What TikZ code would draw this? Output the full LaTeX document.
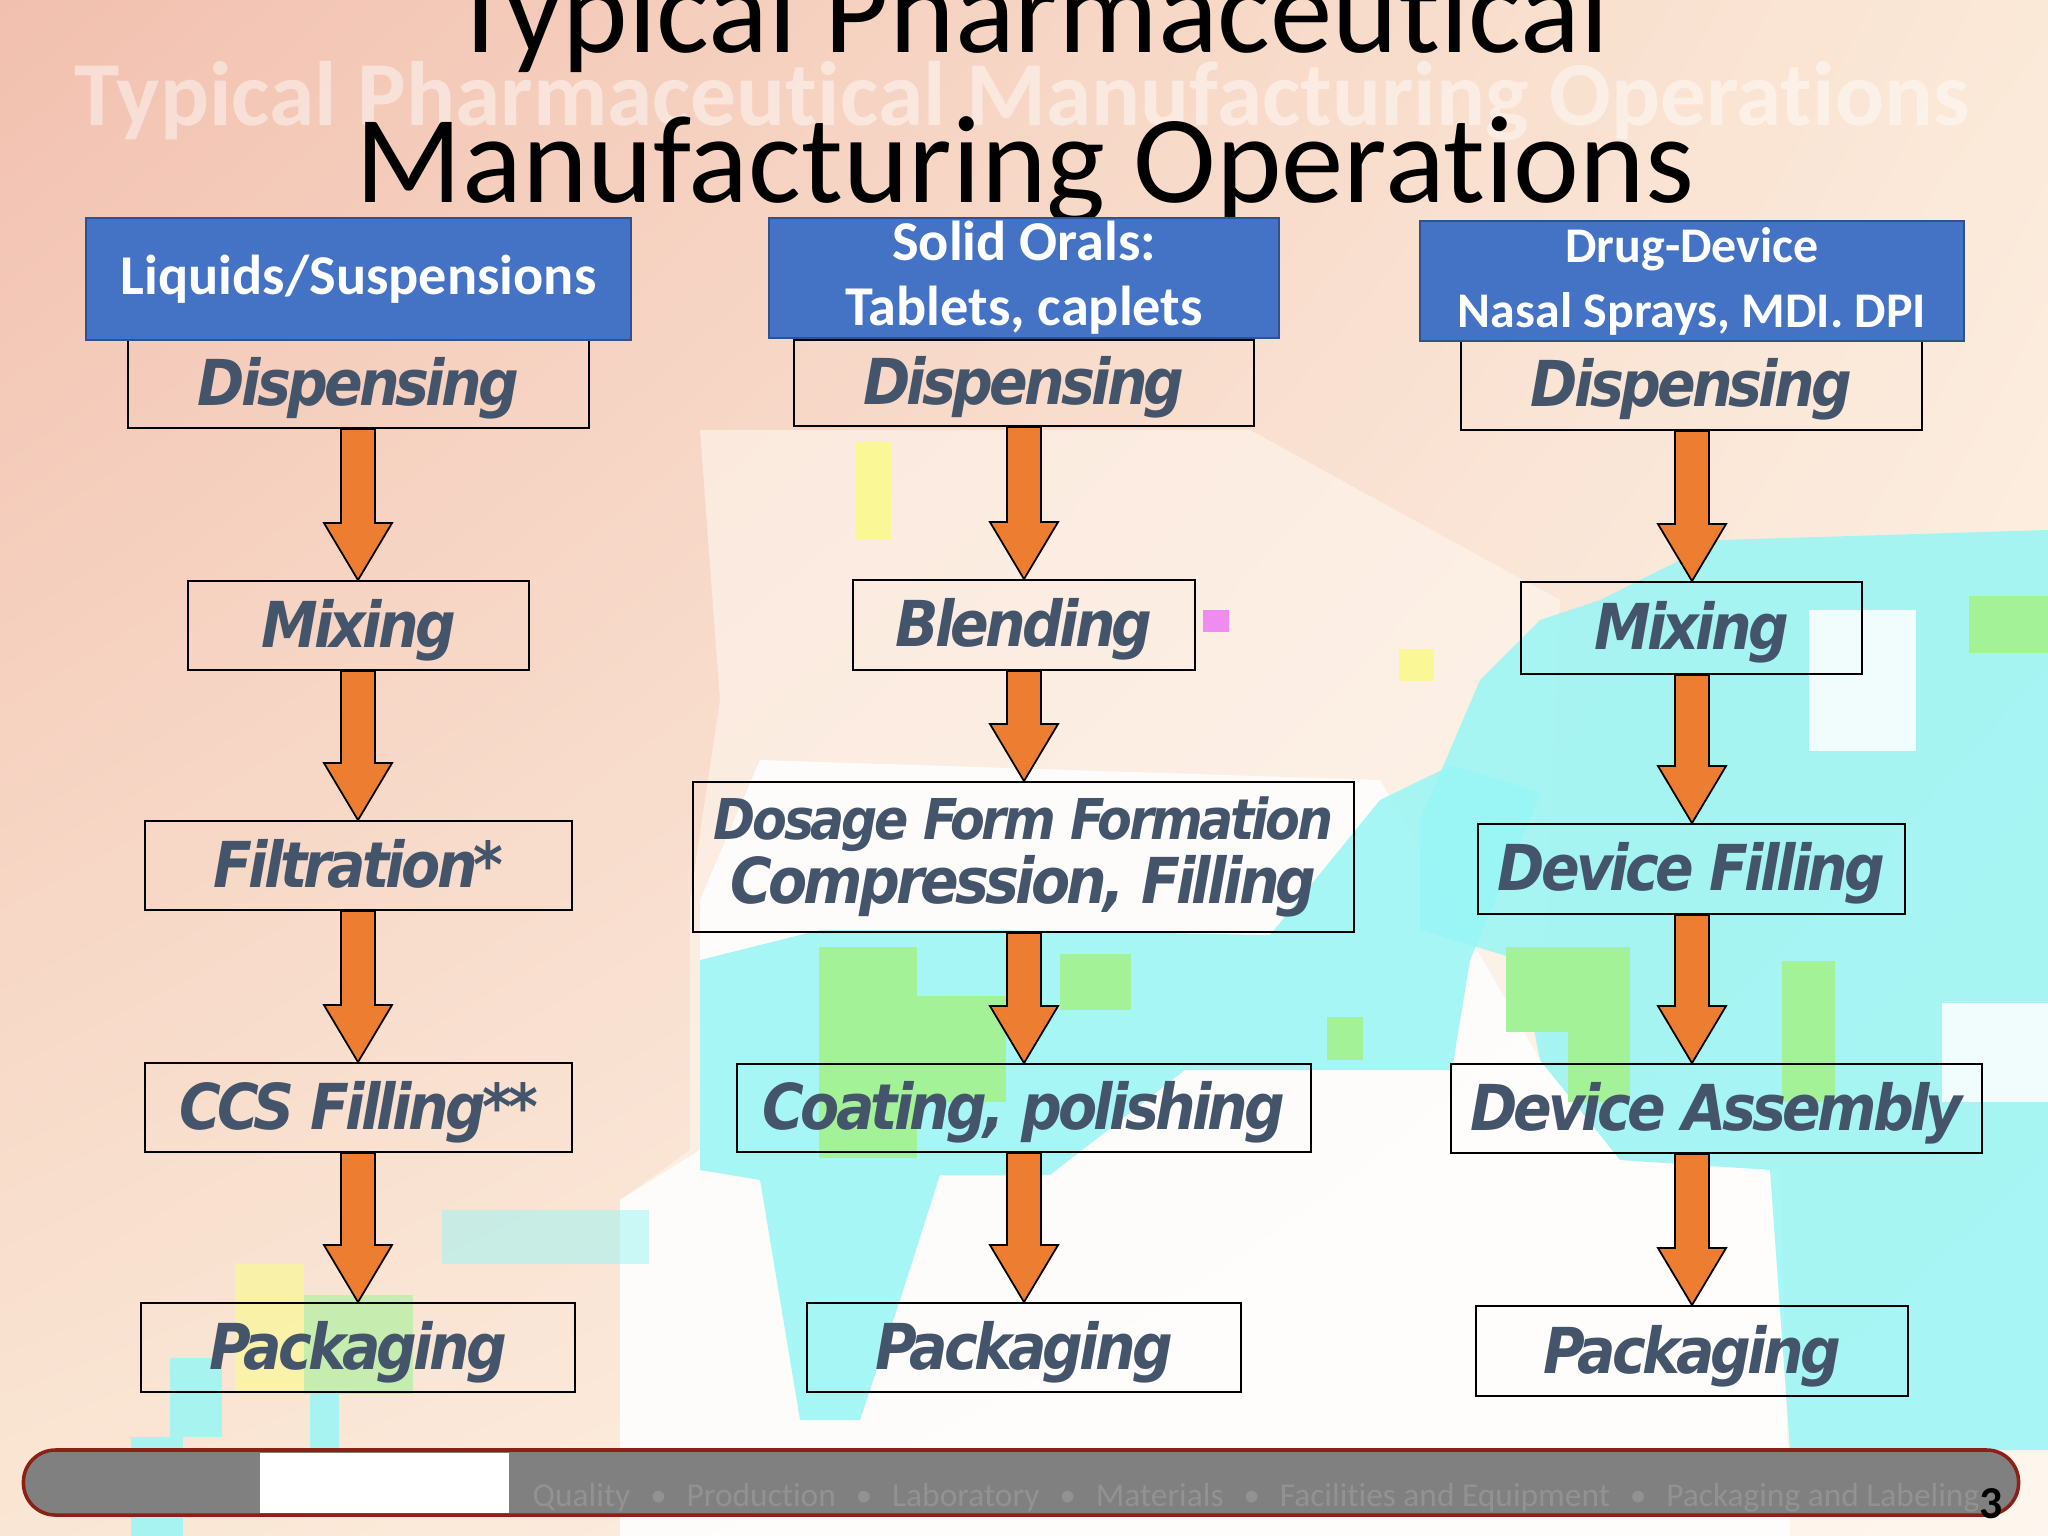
\documentclass[tikz,border=0pt]{standalone}
\usepackage{fontspec}
\setmainfont[Ligatures=NoCommon]{Carlito}
\newfontfamily\stepfont[FakeStretch=0.9, LetterSpace=-6]{DejaVu Sans}
\usepackage{xcolor}
\usetikzlibrary{
  calc,
  positioning,
  shadings
}
\definecolor{hdrblue}{RGB}{68,114,196}
\definecolor{hdredge}{RGB}{47,82,143}
\definecolor{stepink}{RGB}{68,84,106}
\definecolor{flow}{RGB}{237,125,49}
\definecolor{barfill}{RGB}{128,128,128}
\definecolor{baredge}{RGB}{140,32,22}
\definecolor{bartext}{RGB}{146,146,146}
\definecolor{peach}{RGB}{250,230,212}
\definecolor{paleapricot}{RGB}{251,233,216}
\definecolor{cream}{RGB}{254,246,238}
\definecolor{salmon}{RGB}{242,192,175}
\definecolor{aqua}{RGB}{152,246,246}
\definecolor{mint}{RGB}{164,242,152}
\definecolor{lemon}{RGB}{250,248,150}
\definecolor{orchid}{RGB}{240,140,240}
\tikzset{
  titletxt/.style={ font=\fontsize{35.5}{42}\selectfont, text=black, inner sep=0pt },
  ghosttxt/.style={ font=\fontsize{26}{30}\selectfont\bfseries, text=white, text opacity=0.45, inner sep=0pt },
  headbox/.style={
    draw=hdredge,
    fill=hdrblue,
    line width=0.6pt,
    text=white,
    align=center,
    inner sep=0pt,
    font=\fontsize{14.2}{18.5}\selectfont\bfseries
  },
  bighead/.style={ font=\fontsize{16}{18.5}\selectfont\bfseries },
  stepbase/.style={
    draw=black,
    line width=0.5pt,
    text=stepink,
    align=center,
    inner sep=0pt,
    font=\stepfont\bfseries\itshape\fontsize{18}{18.2}\selectfont
  },
  stepbox/.style={
    stepbase,
    text height=15pt,
    text depth=2.5pt
  },
  blockarrow/.style={
    draw=black,
    line width=0.5pt,
    fill=flow,
    line join=miter
  },
  barbox/.style={
    draw=baredge,
    fill=barfill,
    line width=1pt,
    rounded corners=3.2mm,
    minimum width=19.94cm,
    minimum height=0.65cm,
    inner sep=0pt
  }
}
% block arrow down a column, from the bottom of one box to the top of the next
\newcommand{\flowarrow}[3]{%
  \draw[blockarrow]
    ($(#1 |- #2.south)+(-17,0)$) -- ($(#1 |- #3.north)+(-17,-57)$)
    -- ($(#1 |- #3.north)+(-34,-57)$) -- (#1 |- #3.north)
    -- ($(#1 |- #3.north)+(34,-57)$) -- ($(#1 |- #3.north)+(17,-57)$)
    -- ($(#1 |- #2.south)+(17,0)$) -- cycle;
}
\newcommand{\barsep}{\hfill\textbullet\hfill}

\begin{document}
\begin{tikzpicture}[x=0.01cm, y=-0.01cm]
\useasboundingbox (0,0) rectangle (2048,1536);
\clip (0,0) rectangle (2048,1536);

% background
\shade[upper left=salmon, upper right=paleapricot, lower left=peach, lower right=cream]
  (0,0) rectangle (2048,1536);
\fill[cream, opacity=0.6] (700,430) -- (1250,430) -- (1450,540) -- (1560,600) -- (1540,1060)
  -- (1620,1160) -- (1780,1170) -- (1790,1536) -- (620,1536) -- (620,1200) -- (690,1150)
  -- (690,900) -- (720,700) -- cycle;
\fill[white, opacity=0.85] (760,760) -- (1380,780) -- (1540,1060) -- (1620,1160) -- (1780,1170)
  -- (1790,1536) -- (620,1536) -- (620,1200) -- (700,1150) -- (700,900) -- cycle;
\fill[aqua, opacity=0.85] (1540,620) -- (1600,600) -- (1720,540) -- (2048,530) -- (2048,1450)
  -- (1790,1450) -- (1770,1170) -- (1620,1160) -- (1540,1060) -- (1520,960) -- (1420,930)
  -- (1420,820) -- (1480,680) -- cycle;
\fill[aqua, opacity=0.85] (700,960) -- (820,930) -- (1000,930) -- (1270,935) -- (1380,800)
  -- (1452,765) -- (1541,793) -- (1470,960) -- (1452,1070) -- (1185,1070) -- (1050,1175)
  -- (940,1175) -- (900,1300) -- (860,1420) -- (800,1420) -- (760,1180) -- (700,1170) -- cycle;
\fill[aqua, opacity=0.5] (442,1210) rectangle (649,1264);
\fill[aqua, opacity=0.85] (310,1394) rectangle (339,1448);
\fill[aqua, opacity=0.85] (170,1358) rectangle (222,1437);
\fill[aqua, opacity=0.85] (131,1437) rectangle (183,1536);
\fill[white, opacity=0.85] (1809,610) rectangle (1916,751);
\fill[white, opacity=0.85] (1942,1003) rectangle (2048,1102);
\fill[mint] (819,947) rectangle (917,1158);
\fill[mint] (917,996) rectangle (1006,1102);
\fill[mint] (1060,954) rectangle (1131,1010);
\fill[mint] (1327,1017) rectangle (1363,1060);
\fill[mint] (1506,947) rectangle (1630,1032);
\fill[mint] (1568,1032) rectangle (1630,1102);
\fill[mint] (1782,961) rectangle (1835,1102);
\fill[mint] (1969,596) rectangle (2048,653);
\fill[mint, opacity=0.6] (304,1295) rectangle (413,1394);
\fill[lemon, opacity=0.7] (235,1264) rectangle (304,1394);
\fill[lemon] (855,442) rectangle (891,540);
\fill[lemon] (1399,649) rectangle (1434,681);
\fill[orchid] (1203,610) rectangle (1229,632);

% titles
\node[ghosttxt, anchor=base] (ghost) at (1022,125) {Typical Pharmaceutical Manufacturing Operations};
\node[titletxt, anchor=base] (title1) at (1030,52) {Typical Pharmaceutical};
\node[titletxt, anchor=base] (title2) at (1025,202) {Manufacturing Operations};

% columns
\coordinate (colL) at (358,0);
\coordinate (colS) at (1024,0);
\coordinate (colD) at (1692,0);

% liquids / suspensions
\node[stepbox, minimum width=4.61cm, minimum height=0.88cm] (liq1) at (358.5,384) {Dispensing};
\node[stepbox, minimum width=3.41cm, minimum height=0.89cm] (liq2) at (358.5,625.5) {Mixing};
\node[stepbox, minimum width=4.27cm, minimum height=0.89cm] (liq3) at (358.5,865.5) {Filtration*};
\node[stepbox, minimum width=4.27cm, minimum height=0.89cm] (liq4) at (358.5,1107.5) {CCS Filling**};
\node[stepbox, minimum width=4.34cm, minimum height=0.89cm] (liq5) at (358,1347.5) {Packaging};
\node[headbox, bighead, minimum width=5.45cm, minimum height=1.22cm] (hdrliq) at (358.5,279) {Liquids/Suspensions};

% solid orals
\node[stepbox, minimum width=4.60cm, minimum height=0.86cm] (sol1) at (1024,383) {Dispensing};
\node[stepbox, minimum width=3.42cm, minimum height=0.90cm] (sol2) at (1024,625) {Blending};
\node[stepbase, minimum width=6.61cm, minimum height=1.50cm] (sol3) at (1023.5,857)
  {{\fontsize{16}{18.2}\selectfont Dosage Form Formation}\\Compression, Filling};
\node[stepbox, minimum width=5.74cm, minimum height=0.88cm] (sol4) at (1024,1108) {Coating, polishing};
\node[stepbox, minimum width=4.34cm, minimum height=0.89cm] (sol5) at (1024,1347.5) {Packaging};
\node[headbox, bighead, minimum width=5.10cm, minimum height=1.20cm] (hdrsol) at (1024,278) {Solid Orals:\\Tablets, caplets};

% drug-device
\node[stepbox, minimum width=4.61cm, minimum height=0.90cm] (dev1) at (1691.5,385) {Dispensing};
\node[stepbox, minimum width=3.41cm, minimum height=0.92cm] (dev2) at (1691.5,628) {Mixing};
\node[stepbox, minimum width=4.27cm, minimum height=0.90cm] (dev3) at (1691.5,869) {Device Filling};
\node[stepbox, minimum width=5.31cm, minimum height=0.89cm] (dev4) at (1716.5,1108.5) {Device Assembly};
\node[stepbox, minimum width=4.32cm, minimum height=0.90cm] (dev5) at (1692,1351) {Packaging};
\node[headbox, minimum width=5.44cm, minimum height=1.20cm] (hdrdev) at (1692,281) {Drug-Device\\Nasal Sprays, MDI. DPI};

% arrows
\flowarrow{colL}{liq1}{liq2}
\flowarrow{colL}{liq2}{liq3}
\flowarrow{colL}{liq3}{liq4}
\flowarrow{colL}{liq4}{liq5}
\flowarrow{colS}{sol1}{sol2}
\flowarrow{colS}{sol2}{sol3}
\flowarrow{colS}{sol3}{sol4}
\flowarrow{colS}{sol4}{sol5}
\flowarrow{colD}{dev1}{dev2}
\flowarrow{colD}{dev2}{dev3}
\flowarrow{colD}{dev3}{dev4}
\flowarrow{colD}{dev4}{dev5}

% footer bar
\node[barbox] (bar) at (1021,1482.5) {};
\fill[white] (260,1452.5) rectangle (509,1512.5);
\node[anchor=base west, inner sep=0pt, text=bartext, font=\fontsize{9.5}{10}\selectfont] (bartxt) at (532,1506)
  {\makebox[14.46cm][s]{Quality\barsep Production\barsep Laboratory\barsep Materials\barsep Facilities and Equipment\barsep Packaging and Labeling}};
\node[anchor=base, inner sep=0pt, font=\fontsize{13}{13}\selectfont\bfseries] (pagenum) at (1991,1518) {3};
\end{tikzpicture}
\end{document}
